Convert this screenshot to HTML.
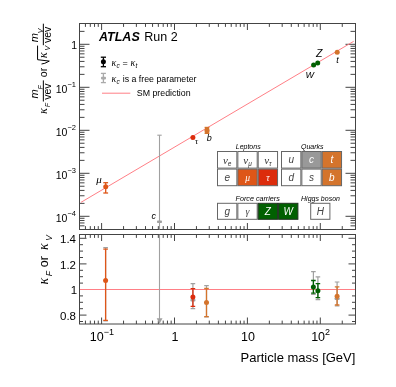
<!DOCTYPE html>
<html><head><meta charset="utf-8"><style>
html,body{margin:0;padding:0;background:#fff;width:396px;height:387px;overflow:hidden}
svg{display:block;will-change:transform}
</style></head><body>
<svg width="396" height="387" viewBox="0 0 396 387"><defs><clipPath id="cu"><rect x="79.5" y="23.5" width="276" height="206"/></clipPath><clipPath id="cl"><rect x="79.5" y="234.5" width="276" height="89.5"/></clipPath></defs>
<line x1="79.50" y1="225.84" x2="84.50" y2="225.84" stroke="#444" stroke-width="1.0" />
<line x1="355.50" y1="225.84" x2="350.50" y2="225.84" stroke="#444" stroke-width="1.0" />
<line x1="79.50" y1="222.96" x2="84.50" y2="222.96" stroke="#444" stroke-width="1.0" />
<line x1="355.50" y1="222.96" x2="350.50" y2="222.96" stroke="#444" stroke-width="1.0" />
<line x1="79.50" y1="220.47" x2="84.50" y2="220.47" stroke="#444" stroke-width="1.0" />
<line x1="355.50" y1="220.47" x2="350.50" y2="220.47" stroke="#444" stroke-width="1.0" />
<line x1="79.50" y1="218.27" x2="84.50" y2="218.27" stroke="#444" stroke-width="1.0" />
<line x1="355.50" y1="218.27" x2="350.50" y2="218.27" stroke="#444" stroke-width="1.0" />
<line x1="79.50" y1="216.30" x2="89.50" y2="216.30" stroke="#444" stroke-width="1.0" />
<line x1="355.50" y1="216.30" x2="345.50" y2="216.30" stroke="#444" stroke-width="1.0" />
<line x1="79.50" y1="203.36" x2="84.50" y2="203.36" stroke="#444" stroke-width="1.0" />
<line x1="355.50" y1="203.36" x2="350.50" y2="203.36" stroke="#444" stroke-width="1.0" />
<line x1="79.50" y1="195.78" x2="84.50" y2="195.78" stroke="#444" stroke-width="1.0" />
<line x1="355.50" y1="195.78" x2="350.50" y2="195.78" stroke="#444" stroke-width="1.0" />
<line x1="79.50" y1="190.41" x2="84.50" y2="190.41" stroke="#444" stroke-width="1.0" />
<line x1="355.50" y1="190.41" x2="350.50" y2="190.41" stroke="#444" stroke-width="1.0" />
<line x1="79.50" y1="186.24" x2="84.50" y2="186.24" stroke="#444" stroke-width="1.0" />
<line x1="355.50" y1="186.24" x2="350.50" y2="186.24" stroke="#444" stroke-width="1.0" />
<line x1="79.50" y1="182.84" x2="84.50" y2="182.84" stroke="#444" stroke-width="1.0" />
<line x1="355.50" y1="182.84" x2="350.50" y2="182.84" stroke="#444" stroke-width="1.0" />
<line x1="79.50" y1="179.96" x2="84.50" y2="179.96" stroke="#444" stroke-width="1.0" />
<line x1="355.50" y1="179.96" x2="350.50" y2="179.96" stroke="#444" stroke-width="1.0" />
<line x1="79.50" y1="177.47" x2="84.50" y2="177.47" stroke="#444" stroke-width="1.0" />
<line x1="355.50" y1="177.47" x2="350.50" y2="177.47" stroke="#444" stroke-width="1.0" />
<line x1="79.50" y1="175.27" x2="84.50" y2="175.27" stroke="#444" stroke-width="1.0" />
<line x1="355.50" y1="175.27" x2="350.50" y2="175.27" stroke="#444" stroke-width="1.0" />
<line x1="79.50" y1="173.30" x2="89.50" y2="173.30" stroke="#444" stroke-width="1.0" />
<line x1="355.50" y1="173.30" x2="345.50" y2="173.30" stroke="#444" stroke-width="1.0" />
<line x1="79.50" y1="160.36" x2="84.50" y2="160.36" stroke="#444" stroke-width="1.0" />
<line x1="355.50" y1="160.36" x2="350.50" y2="160.36" stroke="#444" stroke-width="1.0" />
<line x1="79.50" y1="152.78" x2="84.50" y2="152.78" stroke="#444" stroke-width="1.0" />
<line x1="355.50" y1="152.78" x2="350.50" y2="152.78" stroke="#444" stroke-width="1.0" />
<line x1="79.50" y1="147.41" x2="84.50" y2="147.41" stroke="#444" stroke-width="1.0" />
<line x1="355.50" y1="147.41" x2="350.50" y2="147.41" stroke="#444" stroke-width="1.0" />
<line x1="79.50" y1="143.24" x2="84.50" y2="143.24" stroke="#444" stroke-width="1.0" />
<line x1="355.50" y1="143.24" x2="350.50" y2="143.24" stroke="#444" stroke-width="1.0" />
<line x1="79.50" y1="139.84" x2="84.50" y2="139.84" stroke="#444" stroke-width="1.0" />
<line x1="355.50" y1="139.84" x2="350.50" y2="139.84" stroke="#444" stroke-width="1.0" />
<line x1="79.50" y1="136.96" x2="84.50" y2="136.96" stroke="#444" stroke-width="1.0" />
<line x1="355.50" y1="136.96" x2="350.50" y2="136.96" stroke="#444" stroke-width="1.0" />
<line x1="79.50" y1="134.47" x2="84.50" y2="134.47" stroke="#444" stroke-width="1.0" />
<line x1="355.50" y1="134.47" x2="350.50" y2="134.47" stroke="#444" stroke-width="1.0" />
<line x1="79.50" y1="132.27" x2="84.50" y2="132.27" stroke="#444" stroke-width="1.0" />
<line x1="355.50" y1="132.27" x2="350.50" y2="132.27" stroke="#444" stroke-width="1.0" />
<line x1="79.50" y1="130.30" x2="89.50" y2="130.30" stroke="#444" stroke-width="1.0" />
<line x1="355.50" y1="130.30" x2="345.50" y2="130.30" stroke="#444" stroke-width="1.0" />
<line x1="79.50" y1="117.36" x2="84.50" y2="117.36" stroke="#444" stroke-width="1.0" />
<line x1="355.50" y1="117.36" x2="350.50" y2="117.36" stroke="#444" stroke-width="1.0" />
<line x1="79.50" y1="109.78" x2="84.50" y2="109.78" stroke="#444" stroke-width="1.0" />
<line x1="355.50" y1="109.78" x2="350.50" y2="109.78" stroke="#444" stroke-width="1.0" />
<line x1="79.50" y1="104.41" x2="84.50" y2="104.41" stroke="#444" stroke-width="1.0" />
<line x1="355.50" y1="104.41" x2="350.50" y2="104.41" stroke="#444" stroke-width="1.0" />
<line x1="79.50" y1="100.24" x2="84.50" y2="100.24" stroke="#444" stroke-width="1.0" />
<line x1="355.50" y1="100.24" x2="350.50" y2="100.24" stroke="#444" stroke-width="1.0" />
<line x1="79.50" y1="96.84" x2="84.50" y2="96.84" stroke="#444" stroke-width="1.0" />
<line x1="355.50" y1="96.84" x2="350.50" y2="96.84" stroke="#444" stroke-width="1.0" />
<line x1="79.50" y1="93.96" x2="84.50" y2="93.96" stroke="#444" stroke-width="1.0" />
<line x1="355.50" y1="93.96" x2="350.50" y2="93.96" stroke="#444" stroke-width="1.0" />
<line x1="79.50" y1="91.47" x2="84.50" y2="91.47" stroke="#444" stroke-width="1.0" />
<line x1="355.50" y1="91.47" x2="350.50" y2="91.47" stroke="#444" stroke-width="1.0" />
<line x1="79.50" y1="89.27" x2="84.50" y2="89.27" stroke="#444" stroke-width="1.0" />
<line x1="355.50" y1="89.27" x2="350.50" y2="89.27" stroke="#444" stroke-width="1.0" />
<line x1="79.50" y1="87.30" x2="89.50" y2="87.30" stroke="#444" stroke-width="1.0" />
<line x1="355.50" y1="87.30" x2="345.50" y2="87.30" stroke="#444" stroke-width="1.0" />
<line x1="79.50" y1="74.36" x2="84.50" y2="74.36" stroke="#444" stroke-width="1.0" />
<line x1="355.50" y1="74.36" x2="350.50" y2="74.36" stroke="#444" stroke-width="1.0" />
<line x1="79.50" y1="66.78" x2="84.50" y2="66.78" stroke="#444" stroke-width="1.0" />
<line x1="355.50" y1="66.78" x2="350.50" y2="66.78" stroke="#444" stroke-width="1.0" />
<line x1="79.50" y1="61.41" x2="84.50" y2="61.41" stroke="#444" stroke-width="1.0" />
<line x1="355.50" y1="61.41" x2="350.50" y2="61.41" stroke="#444" stroke-width="1.0" />
<line x1="79.50" y1="57.24" x2="84.50" y2="57.24" stroke="#444" stroke-width="1.0" />
<line x1="355.50" y1="57.24" x2="350.50" y2="57.24" stroke="#444" stroke-width="1.0" />
<line x1="79.50" y1="53.84" x2="84.50" y2="53.84" stroke="#444" stroke-width="1.0" />
<line x1="355.50" y1="53.84" x2="350.50" y2="53.84" stroke="#444" stroke-width="1.0" />
<line x1="79.50" y1="50.96" x2="84.50" y2="50.96" stroke="#444" stroke-width="1.0" />
<line x1="355.50" y1="50.96" x2="350.50" y2="50.96" stroke="#444" stroke-width="1.0" />
<line x1="79.50" y1="48.47" x2="84.50" y2="48.47" stroke="#444" stroke-width="1.0" />
<line x1="355.50" y1="48.47" x2="350.50" y2="48.47" stroke="#444" stroke-width="1.0" />
<line x1="79.50" y1="46.27" x2="84.50" y2="46.27" stroke="#444" stroke-width="1.0" />
<line x1="355.50" y1="46.27" x2="350.50" y2="46.27" stroke="#444" stroke-width="1.0" />
<line x1="79.50" y1="44.30" x2="89.50" y2="44.30" stroke="#444" stroke-width="1.0" />
<line x1="355.50" y1="44.30" x2="345.50" y2="44.30" stroke="#444" stroke-width="1.0" />
<line x1="79.50" y1="31.36" x2="84.50" y2="31.36" stroke="#444" stroke-width="1.0" />
<line x1="355.50" y1="31.36" x2="350.50" y2="31.36" stroke="#444" stroke-width="1.0" />
<line x1="85.43" y1="23.50" x2="85.43" y2="26.90" stroke="#444" stroke-width="1.0" />
<line x1="85.43" y1="229.50" x2="85.43" y2="226.10" stroke="#444" stroke-width="1.0" />
<line x1="90.31" y1="23.50" x2="90.31" y2="26.90" stroke="#444" stroke-width="1.0" />
<line x1="90.31" y1="229.50" x2="90.31" y2="226.10" stroke="#444" stroke-width="1.0" />
<line x1="94.54" y1="23.50" x2="94.54" y2="26.90" stroke="#444" stroke-width="1.0" />
<line x1="94.54" y1="229.50" x2="94.54" y2="226.10" stroke="#444" stroke-width="1.0" />
<line x1="98.26" y1="23.50" x2="98.26" y2="26.90" stroke="#444" stroke-width="1.0" />
<line x1="98.26" y1="229.50" x2="98.26" y2="226.10" stroke="#444" stroke-width="1.0" />
<line x1="101.60" y1="23.50" x2="101.60" y2="30.00" stroke="#444" stroke-width="1.0" />
<line x1="101.60" y1="229.50" x2="101.60" y2="223.00" stroke="#444" stroke-width="1.0" />
<line x1="123.55" y1="23.50" x2="123.55" y2="26.90" stroke="#444" stroke-width="1.0" />
<line x1="123.55" y1="229.50" x2="123.55" y2="226.10" stroke="#444" stroke-width="1.0" />
<line x1="136.38" y1="23.50" x2="136.38" y2="26.90" stroke="#444" stroke-width="1.0" />
<line x1="136.38" y1="229.50" x2="136.38" y2="226.10" stroke="#444" stroke-width="1.0" />
<line x1="145.49" y1="23.50" x2="145.49" y2="26.90" stroke="#444" stroke-width="1.0" />
<line x1="145.49" y1="229.50" x2="145.49" y2="226.10" stroke="#444" stroke-width="1.0" />
<line x1="152.55" y1="23.50" x2="152.55" y2="26.90" stroke="#444" stroke-width="1.0" />
<line x1="152.55" y1="229.50" x2="152.55" y2="226.10" stroke="#444" stroke-width="1.0" />
<line x1="158.33" y1="23.50" x2="158.33" y2="26.90" stroke="#444" stroke-width="1.0" />
<line x1="158.33" y1="229.50" x2="158.33" y2="226.10" stroke="#444" stroke-width="1.0" />
<line x1="163.21" y1="23.50" x2="163.21" y2="26.90" stroke="#444" stroke-width="1.0" />
<line x1="163.21" y1="229.50" x2="163.21" y2="226.10" stroke="#444" stroke-width="1.0" />
<line x1="167.44" y1="23.50" x2="167.44" y2="26.90" stroke="#444" stroke-width="1.0" />
<line x1="167.44" y1="229.50" x2="167.44" y2="226.10" stroke="#444" stroke-width="1.0" />
<line x1="171.16" y1="23.50" x2="171.16" y2="26.90" stroke="#444" stroke-width="1.0" />
<line x1="171.16" y1="229.50" x2="171.16" y2="226.10" stroke="#444" stroke-width="1.0" />
<line x1="174.50" y1="23.50" x2="174.50" y2="30.00" stroke="#444" stroke-width="1.0" />
<line x1="174.50" y1="229.50" x2="174.50" y2="223.00" stroke="#444" stroke-width="1.0" />
<line x1="196.45" y1="23.50" x2="196.45" y2="26.90" stroke="#444" stroke-width="1.0" />
<line x1="196.45" y1="229.50" x2="196.45" y2="226.10" stroke="#444" stroke-width="1.0" />
<line x1="209.28" y1="23.50" x2="209.28" y2="26.90" stroke="#444" stroke-width="1.0" />
<line x1="209.28" y1="229.50" x2="209.28" y2="226.10" stroke="#444" stroke-width="1.0" />
<line x1="218.39" y1="23.50" x2="218.39" y2="26.90" stroke="#444" stroke-width="1.0" />
<line x1="218.39" y1="229.50" x2="218.39" y2="226.10" stroke="#444" stroke-width="1.0" />
<line x1="225.45" y1="23.50" x2="225.45" y2="26.90" stroke="#444" stroke-width="1.0" />
<line x1="225.45" y1="229.50" x2="225.45" y2="226.10" stroke="#444" stroke-width="1.0" />
<line x1="231.23" y1="23.50" x2="231.23" y2="26.90" stroke="#444" stroke-width="1.0" />
<line x1="231.23" y1="229.50" x2="231.23" y2="226.10" stroke="#444" stroke-width="1.0" />
<line x1="236.11" y1="23.50" x2="236.11" y2="26.90" stroke="#444" stroke-width="1.0" />
<line x1="236.11" y1="229.50" x2="236.11" y2="226.10" stroke="#444" stroke-width="1.0" />
<line x1="240.34" y1="23.50" x2="240.34" y2="26.90" stroke="#444" stroke-width="1.0" />
<line x1="240.34" y1="229.50" x2="240.34" y2="226.10" stroke="#444" stroke-width="1.0" />
<line x1="244.06" y1="23.50" x2="244.06" y2="26.90" stroke="#444" stroke-width="1.0" />
<line x1="244.06" y1="229.50" x2="244.06" y2="226.10" stroke="#444" stroke-width="1.0" />
<line x1="247.40" y1="23.50" x2="247.40" y2="30.00" stroke="#444" stroke-width="1.0" />
<line x1="247.40" y1="229.50" x2="247.40" y2="223.00" stroke="#444" stroke-width="1.0" />
<line x1="269.35" y1="23.50" x2="269.35" y2="26.90" stroke="#444" stroke-width="1.0" />
<line x1="269.35" y1="229.50" x2="269.35" y2="226.10" stroke="#444" stroke-width="1.0" />
<line x1="282.18" y1="23.50" x2="282.18" y2="26.90" stroke="#444" stroke-width="1.0" />
<line x1="282.18" y1="229.50" x2="282.18" y2="226.10" stroke="#444" stroke-width="1.0" />
<line x1="291.29" y1="23.50" x2="291.29" y2="26.90" stroke="#444" stroke-width="1.0" />
<line x1="291.29" y1="229.50" x2="291.29" y2="226.10" stroke="#444" stroke-width="1.0" />
<line x1="298.35" y1="23.50" x2="298.35" y2="26.90" stroke="#444" stroke-width="1.0" />
<line x1="298.35" y1="229.50" x2="298.35" y2="226.10" stroke="#444" stroke-width="1.0" />
<line x1="304.13" y1="23.50" x2="304.13" y2="26.90" stroke="#444" stroke-width="1.0" />
<line x1="304.13" y1="229.50" x2="304.13" y2="226.10" stroke="#444" stroke-width="1.0" />
<line x1="309.01" y1="23.50" x2="309.01" y2="26.90" stroke="#444" stroke-width="1.0" />
<line x1="309.01" y1="229.50" x2="309.01" y2="226.10" stroke="#444" stroke-width="1.0" />
<line x1="313.24" y1="23.50" x2="313.24" y2="26.90" stroke="#444" stroke-width="1.0" />
<line x1="313.24" y1="229.50" x2="313.24" y2="226.10" stroke="#444" stroke-width="1.0" />
<line x1="316.96" y1="23.50" x2="316.96" y2="26.90" stroke="#444" stroke-width="1.0" />
<line x1="316.96" y1="229.50" x2="316.96" y2="226.10" stroke="#444" stroke-width="1.0" />
<line x1="320.30" y1="23.50" x2="320.30" y2="30.00" stroke="#444" stroke-width="1.0" />
<line x1="320.30" y1="229.50" x2="320.30" y2="223.00" stroke="#444" stroke-width="1.0" />
<line x1="342.25" y1="23.50" x2="342.25" y2="26.90" stroke="#444" stroke-width="1.0" />
<line x1="342.25" y1="229.50" x2="342.25" y2="226.10" stroke="#444" stroke-width="1.0" />
<line x1="79.50" y1="321.50" x2="83.00" y2="321.50" stroke="#444" stroke-width="1.0" />
<line x1="355.50" y1="321.50" x2="352.00" y2="321.50" stroke="#444" stroke-width="1.0" />
<line x1="79.50" y1="315.10" x2="86.50" y2="315.10" stroke="#444" stroke-width="1.0" />
<line x1="355.50" y1="315.10" x2="348.50" y2="315.10" stroke="#444" stroke-width="1.0" />
<line x1="79.50" y1="308.70" x2="83.00" y2="308.70" stroke="#444" stroke-width="1.0" />
<line x1="355.50" y1="308.70" x2="352.00" y2="308.70" stroke="#444" stroke-width="1.0" />
<line x1="79.50" y1="302.30" x2="83.00" y2="302.30" stroke="#444" stroke-width="1.0" />
<line x1="355.50" y1="302.30" x2="352.00" y2="302.30" stroke="#444" stroke-width="1.0" />
<line x1="79.50" y1="295.90" x2="83.00" y2="295.90" stroke="#444" stroke-width="1.0" />
<line x1="355.50" y1="295.90" x2="352.00" y2="295.90" stroke="#444" stroke-width="1.0" />
<line x1="79.50" y1="289.50" x2="86.50" y2="289.50" stroke="#444" stroke-width="1.0" />
<line x1="355.50" y1="289.50" x2="348.50" y2="289.50" stroke="#444" stroke-width="1.0" />
<line x1="79.50" y1="283.10" x2="83.00" y2="283.10" stroke="#444" stroke-width="1.0" />
<line x1="355.50" y1="283.10" x2="352.00" y2="283.10" stroke="#444" stroke-width="1.0" />
<line x1="79.50" y1="276.70" x2="83.00" y2="276.70" stroke="#444" stroke-width="1.0" />
<line x1="355.50" y1="276.70" x2="352.00" y2="276.70" stroke="#444" stroke-width="1.0" />
<line x1="79.50" y1="270.30" x2="83.00" y2="270.30" stroke="#444" stroke-width="1.0" />
<line x1="355.50" y1="270.30" x2="352.00" y2="270.30" stroke="#444" stroke-width="1.0" />
<line x1="79.50" y1="263.90" x2="86.50" y2="263.90" stroke="#444" stroke-width="1.0" />
<line x1="355.50" y1="263.90" x2="348.50" y2="263.90" stroke="#444" stroke-width="1.0" />
<line x1="79.50" y1="257.50" x2="83.00" y2="257.50" stroke="#444" stroke-width="1.0" />
<line x1="355.50" y1="257.50" x2="352.00" y2="257.50" stroke="#444" stroke-width="1.0" />
<line x1="79.50" y1="251.10" x2="83.00" y2="251.10" stroke="#444" stroke-width="1.0" />
<line x1="355.50" y1="251.10" x2="352.00" y2="251.10" stroke="#444" stroke-width="1.0" />
<line x1="79.50" y1="244.70" x2="83.00" y2="244.70" stroke="#444" stroke-width="1.0" />
<line x1="355.50" y1="244.70" x2="352.00" y2="244.70" stroke="#444" stroke-width="1.0" />
<line x1="79.50" y1="238.30" x2="86.50" y2="238.30" stroke="#444" stroke-width="1.0" />
<line x1="355.50" y1="238.30" x2="348.50" y2="238.30" stroke="#444" stroke-width="1.0" />
<line x1="85.43" y1="234.50" x2="85.43" y2="237.90" stroke="#444" stroke-width="1.0" />
<line x1="85.43" y1="324.00" x2="85.43" y2="320.60" stroke="#444" stroke-width="1.0" />
<line x1="90.31" y1="234.50" x2="90.31" y2="237.90" stroke="#444" stroke-width="1.0" />
<line x1="90.31" y1="324.00" x2="90.31" y2="320.60" stroke="#444" stroke-width="1.0" />
<line x1="94.54" y1="234.50" x2="94.54" y2="237.90" stroke="#444" stroke-width="1.0" />
<line x1="94.54" y1="324.00" x2="94.54" y2="320.60" stroke="#444" stroke-width="1.0" />
<line x1="98.26" y1="234.50" x2="98.26" y2="237.90" stroke="#444" stroke-width="1.0" />
<line x1="98.26" y1="324.00" x2="98.26" y2="320.60" stroke="#444" stroke-width="1.0" />
<line x1="101.60" y1="234.50" x2="101.60" y2="241.00" stroke="#444" stroke-width="1.0" />
<line x1="101.60" y1="324.00" x2="101.60" y2="317.50" stroke="#444" stroke-width="1.0" />
<line x1="123.55" y1="234.50" x2="123.55" y2="237.90" stroke="#444" stroke-width="1.0" />
<line x1="123.55" y1="324.00" x2="123.55" y2="320.60" stroke="#444" stroke-width="1.0" />
<line x1="136.38" y1="234.50" x2="136.38" y2="237.90" stroke="#444" stroke-width="1.0" />
<line x1="136.38" y1="324.00" x2="136.38" y2="320.60" stroke="#444" stroke-width="1.0" />
<line x1="145.49" y1="234.50" x2="145.49" y2="237.90" stroke="#444" stroke-width="1.0" />
<line x1="145.49" y1="324.00" x2="145.49" y2="320.60" stroke="#444" stroke-width="1.0" />
<line x1="152.55" y1="234.50" x2="152.55" y2="237.90" stroke="#444" stroke-width="1.0" />
<line x1="152.55" y1="324.00" x2="152.55" y2="320.60" stroke="#444" stroke-width="1.0" />
<line x1="158.33" y1="234.50" x2="158.33" y2="237.90" stroke="#444" stroke-width="1.0" />
<line x1="158.33" y1="324.00" x2="158.33" y2="320.60" stroke="#444" stroke-width="1.0" />
<line x1="163.21" y1="234.50" x2="163.21" y2="237.90" stroke="#444" stroke-width="1.0" />
<line x1="163.21" y1="324.00" x2="163.21" y2="320.60" stroke="#444" stroke-width="1.0" />
<line x1="167.44" y1="234.50" x2="167.44" y2="237.90" stroke="#444" stroke-width="1.0" />
<line x1="167.44" y1="324.00" x2="167.44" y2="320.60" stroke="#444" stroke-width="1.0" />
<line x1="171.16" y1="234.50" x2="171.16" y2="237.90" stroke="#444" stroke-width="1.0" />
<line x1="171.16" y1="324.00" x2="171.16" y2="320.60" stroke="#444" stroke-width="1.0" />
<line x1="174.50" y1="234.50" x2="174.50" y2="241.00" stroke="#444" stroke-width="1.0" />
<line x1="174.50" y1="324.00" x2="174.50" y2="317.50" stroke="#444" stroke-width="1.0" />
<line x1="196.45" y1="234.50" x2="196.45" y2="237.90" stroke="#444" stroke-width="1.0" />
<line x1="196.45" y1="324.00" x2="196.45" y2="320.60" stroke="#444" stroke-width="1.0" />
<line x1="209.28" y1="234.50" x2="209.28" y2="237.90" stroke="#444" stroke-width="1.0" />
<line x1="209.28" y1="324.00" x2="209.28" y2="320.60" stroke="#444" stroke-width="1.0" />
<line x1="218.39" y1="234.50" x2="218.39" y2="237.90" stroke="#444" stroke-width="1.0" />
<line x1="218.39" y1="324.00" x2="218.39" y2="320.60" stroke="#444" stroke-width="1.0" />
<line x1="225.45" y1="234.50" x2="225.45" y2="237.90" stroke="#444" stroke-width="1.0" />
<line x1="225.45" y1="324.00" x2="225.45" y2="320.60" stroke="#444" stroke-width="1.0" />
<line x1="231.23" y1="234.50" x2="231.23" y2="237.90" stroke="#444" stroke-width="1.0" />
<line x1="231.23" y1="324.00" x2="231.23" y2="320.60" stroke="#444" stroke-width="1.0" />
<line x1="236.11" y1="234.50" x2="236.11" y2="237.90" stroke="#444" stroke-width="1.0" />
<line x1="236.11" y1="324.00" x2="236.11" y2="320.60" stroke="#444" stroke-width="1.0" />
<line x1="240.34" y1="234.50" x2="240.34" y2="237.90" stroke="#444" stroke-width="1.0" />
<line x1="240.34" y1="324.00" x2="240.34" y2="320.60" stroke="#444" stroke-width="1.0" />
<line x1="244.06" y1="234.50" x2="244.06" y2="237.90" stroke="#444" stroke-width="1.0" />
<line x1="244.06" y1="324.00" x2="244.06" y2="320.60" stroke="#444" stroke-width="1.0" />
<line x1="247.40" y1="234.50" x2="247.40" y2="241.00" stroke="#444" stroke-width="1.0" />
<line x1="247.40" y1="324.00" x2="247.40" y2="317.50" stroke="#444" stroke-width="1.0" />
<line x1="269.35" y1="234.50" x2="269.35" y2="237.90" stroke="#444" stroke-width="1.0" />
<line x1="269.35" y1="324.00" x2="269.35" y2="320.60" stroke="#444" stroke-width="1.0" />
<line x1="282.18" y1="234.50" x2="282.18" y2="237.90" stroke="#444" stroke-width="1.0" />
<line x1="282.18" y1="324.00" x2="282.18" y2="320.60" stroke="#444" stroke-width="1.0" />
<line x1="291.29" y1="234.50" x2="291.29" y2="237.90" stroke="#444" stroke-width="1.0" />
<line x1="291.29" y1="324.00" x2="291.29" y2="320.60" stroke="#444" stroke-width="1.0" />
<line x1="298.35" y1="234.50" x2="298.35" y2="237.90" stroke="#444" stroke-width="1.0" />
<line x1="298.35" y1="324.00" x2="298.35" y2="320.60" stroke="#444" stroke-width="1.0" />
<line x1="304.13" y1="234.50" x2="304.13" y2="237.90" stroke="#444" stroke-width="1.0" />
<line x1="304.13" y1="324.00" x2="304.13" y2="320.60" stroke="#444" stroke-width="1.0" />
<line x1="309.01" y1="234.50" x2="309.01" y2="237.90" stroke="#444" stroke-width="1.0" />
<line x1="309.01" y1="324.00" x2="309.01" y2="320.60" stroke="#444" stroke-width="1.0" />
<line x1="313.24" y1="234.50" x2="313.24" y2="237.90" stroke="#444" stroke-width="1.0" />
<line x1="313.24" y1="324.00" x2="313.24" y2="320.60" stroke="#444" stroke-width="1.0" />
<line x1="316.96" y1="234.50" x2="316.96" y2="237.90" stroke="#444" stroke-width="1.0" />
<line x1="316.96" y1="324.00" x2="316.96" y2="320.60" stroke="#444" stroke-width="1.0" />
<line x1="320.30" y1="234.50" x2="320.30" y2="241.00" stroke="#444" stroke-width="1.0" />
<line x1="320.30" y1="324.00" x2="320.30" y2="317.50" stroke="#444" stroke-width="1.0" />
<line x1="342.25" y1="234.50" x2="342.25" y2="237.90" stroke="#444" stroke-width="1.0" />
<line x1="342.25" y1="324.00" x2="342.25" y2="320.60" stroke="#444" stroke-width="1.0" />
<rect x="79.5" y="23.5" width="276.0" height="206.0" fill="none" stroke="#444" stroke-width="1"/>
<rect x="79.5" y="234.5" width="276.0" height="89.5" fill="none" stroke="#444" stroke-width="1"/>
<text x="77.20" y="49.20" font-size="10.5" text-anchor="end" fill="#000" style="font-family:'Liberation Sans',sans-serif;">1</text>
<text x="76.0" y="92.60" font-size="10.5" text-anchor="end" style="font-family:'Liberation Sans',sans-serif">10<tspan font-size="7.5" dy="-5.3">−1</tspan></text>
<text x="76.0" y="135.60" font-size="10.5" text-anchor="end" style="font-family:'Liberation Sans',sans-serif">10<tspan font-size="7.5" dy="-5.3">−2</tspan></text>
<text x="76.0" y="178.60" font-size="10.5" text-anchor="end" style="font-family:'Liberation Sans',sans-serif">10<tspan font-size="7.5" dy="-5.3">−3</tspan></text>
<text x="76.0" y="221.60" font-size="10.5" text-anchor="end" style="font-family:'Liberation Sans',sans-serif">10<tspan font-size="7.5" dy="-5.3">−4</tspan></text>
<text x="76.00" y="242.90" font-size="11.5" text-anchor="end" fill="#000" style="font-family:'Liberation Sans',sans-serif;">1.4</text>
<text x="76.00" y="268.50" font-size="11.5" text-anchor="end" fill="#000" style="font-family:'Liberation Sans',sans-serif;">1.2</text>
<text x="77.20" y="294.10" font-size="11.5" text-anchor="end" fill="#000" style="font-family:'Liberation Sans',sans-serif;">1</text>
<text x="76.00" y="319.70" font-size="11.5" text-anchor="end" fill="#000" style="font-family:'Liberation Sans',sans-serif;">0.8</text>
<text x="101.90" y="341" font-size="12.5" text-anchor="middle" style="font-family:'Liberation Sans',sans-serif">10<tspan font-size="9" dy="-6.5">−1</tspan></text>
<text x="175.00" y="341" font-size="12.5" text-anchor="middle" style="font-family:'Liberation Sans',sans-serif">1</text>
<text x="247.90" y="341" font-size="12.5" text-anchor="middle" style="font-family:'Liberation Sans',sans-serif">10</text>
<text x="320.60" y="341" font-size="12.5" text-anchor="middle" style="font-family:'Liberation Sans',sans-serif">10<tspan font-size="9" dy="-6.5">2</tspan></text>
<text x="355.40" y="361.80" font-size="13" text-anchor="end" fill="#000" style="font-family:'Liberation Sans',sans-serif;">Particle mass [GeV]</text>
<g clip-path="url(#cu)"><line x1="80.9" y1="202.4" x2="353.7" y2="41.3" stroke="#ff7f86" stroke-width="1"/></g>
<line x1="80" y1="289.50" x2="355" y2="289.50" stroke="#ff7f86" stroke-width="1"/>
<text x="99.0" y="41.3" font-size="12.5" style="font-family:'Liberation Sans',sans-serif;font-weight:bold;font-style:italic">ATLAS</text>
<text x="144.30" y="41.30" font-size="12.5" text-anchor="start" fill="#000" style="font-family:'Liberation Sans',sans-serif;">Run 2</text>
<line x1="103.40" y1="57.20" x2="103.40" y2="66.70" stroke="#000" stroke-width="1.3" />
<line x1="100.80" y1="57.20" x2="106.00" y2="57.20" stroke="#000" stroke-width="1.3" />
<line x1="100.80" y1="66.70" x2="106.00" y2="66.70" stroke="#000" stroke-width="1.3" />
<circle cx="103.40" cy="61.80" r="2.5" fill="#000"/>
<line x1="103.40" y1="73.40" x2="103.40" y2="82.60" stroke="#aaa" stroke-width="1.3" />
<line x1="100.90" y1="73.40" x2="105.90" y2="73.40" stroke="#aaa" stroke-width="1.3" />
<line x1="100.90" y1="82.60" x2="105.90" y2="82.60" stroke="#aaa" stroke-width="1.3" />
<rect x="101.00" y="76.80" width="5" height="2.6" rx="0.8" fill="#aaa"/>
<text x="111.50" y="65.80" font-size="10" style="font-family:'Liberation Serif',serif;font-style:italic">κ</text>
<text x="116.40" y="67.80" font-size="6.5" style="font-family:'Liberation Sans',sans-serif;font-style:italic">c</text>
<text x="122.50" y="65.80" font-size="9" style="font-family:'Liberation Sans',sans-serif">=</text>
<text x="130.50" y="65.80" font-size="10" style="font-family:'Liberation Serif',serif;font-style:italic">κ</text>
<text x="135.40" y="67.80" font-size="6.5" style="font-family:'Liberation Sans',sans-serif;font-style:italic">t</text>
<text x="111.50" y="81.60" font-size="10" style="font-family:'Liberation Serif',serif;font-style:italic">κ</text>
<text x="116.40" y="83.60" font-size="6.5" style="font-family:'Liberation Sans',sans-serif;font-style:italic">c</text>
<text x="122.70" y="81.70" font-size="8.8" style="font-family:'Liberation Sans',sans-serif">is a free parameter</text>
<line x1="102.00" y1="93.20" x2="130.30" y2="93.20" stroke="#ff7f86" stroke-width="1" />
<text x="136.80" y="96.30" font-size="8.8" text-anchor="start" fill="#000" style="font-family:'Liberation Sans',sans-serif;">SM prediction</text>
<line x1="159.50" y1="135.20" x2="159.50" y2="229.50" stroke="#a0a0a0" stroke-width="1.1" />
<line x1="157.30" y1="135.20" x2="161.70" y2="135.20" stroke="#a0a0a0" stroke-width="1.1" />
<rect x="157.00" y="220.40" width="5" height="2.6" rx="0.8" fill="#a0a0a0"/>
<text x="151.40" y="219.30" font-size="9" text-anchor="start" fill="#000" style="font-family:'Liberation Sans',sans-serif;font-style:italic">c</text>
<line x1="105.70" y1="182.70" x2="105.70" y2="193.00" stroke="#de5618" stroke-width="1.3" />
<line x1="103.30" y1="182.70" x2="108.10" y2="182.70" stroke="#de5618" stroke-width="1.3" />
<line x1="103.30" y1="193.00" x2="108.10" y2="193.00" stroke="#de5618" stroke-width="1.3" />
<circle cx="105.70" cy="186.70" r="2.5" fill="#de5618"/>
<text x="96.3" y="183.3" font-size="11" style="font-family:'Liberation Serif',serif;font-style:italic">μ</text>
<circle cx="192.90" cy="137.60" r="2.5" fill="#dc2c0c"/>
<text x="195.0" y="143.5" font-size="8.5" style="font-family:'Liberation Serif',serif;font-style:italic">τ</text>
<line x1="207.00" y1="127.60" x2="207.00" y2="133.20" stroke="#d4742c" stroke-width="1.6" />
<line x1="204.60" y1="127.60" x2="209.40" y2="127.60" stroke="#d4742c" stroke-width="1.6" />
<line x1="204.60" y1="133.20" x2="209.40" y2="133.20" stroke="#d4742c" stroke-width="1.6" />
<rect x="204.9" y="127.8" width="4.3" height="5.2" rx="1.2" fill="#d4742c"/>
<circle cx="207.00" cy="130.40" r="2.5" fill="#d4742c"/>
<text x="206.80" y="140.60" font-size="9" text-anchor="start" fill="#000" style="font-family:'Liberation Sans',sans-serif;font-style:italic">b</text>
<circle cx="313.60" cy="65.00" r="2.5" fill="#016001"/>
<circle cx="317.70" cy="62.90" r="2.5" fill="#016001"/>
<circle cx="337.20" cy="52.30" r="2.5" fill="#d4742c"/>
<text x="315.90" y="57.00" font-size="10.6" text-anchor="start" fill="#000" style="font-family:'Liberation Sans',sans-serif;font-style:italic">Z</text>
<text x="305.50" y="78.10" font-size="9" text-anchor="start" fill="#000" style="font-family:'Liberation Sans',sans-serif;font-style:italic">W</text>
<text x="336.20" y="63.30" font-size="9" text-anchor="start" fill="#000" style="font-family:'Liberation Sans',sans-serif;font-style:italic">t</text>
<g clip-path="url(#cl)">
<line x1="159.50" y1="234.50" x2="159.50" y2="319.00" stroke="#a0a0a0" stroke-width="1.1" />
<polygon points="156.7,318.3 162.5,318.3 159.6,323.8" fill="#a0a0a0"/>
<line x1="105.60" y1="247.70" x2="105.60" y2="320.80" stroke="#a0a0a0" stroke-width="1.2" />
<line x1="103.30" y1="247.70" x2="107.90" y2="247.70" stroke="#a0a0a0" stroke-width="1.2" />
<line x1="103.30" y1="320.80" x2="107.90" y2="320.80" stroke="#a0a0a0" stroke-width="1.2" />
<line x1="105.60" y1="249.20" x2="105.60" y2="320.30" stroke="#de5618" stroke-width="1.3" />
<line x1="103.30" y1="249.20" x2="107.90" y2="249.20" stroke="#de5618" stroke-width="1.3" />
<line x1="103.30" y1="320.30" x2="107.90" y2="320.30" stroke="#de5618" stroke-width="1.3" />
<circle cx="105.60" cy="280.60" r="2.5" fill="#de5618"/>
<line x1="192.90" y1="283.60" x2="192.90" y2="308.70" stroke="#a0a0a0" stroke-width="1.2" />
<line x1="190.60" y1="283.60" x2="195.20" y2="283.60" stroke="#a0a0a0" stroke-width="1.2" />
<line x1="190.60" y1="308.70" x2="195.20" y2="308.70" stroke="#a0a0a0" stroke-width="1.2" />
<rect x="190.40" y="299.00" width="5" height="2.6" rx="0.8" fill="#a0a0a0"/>
<line x1="192.90" y1="288.70" x2="192.90" y2="306.40" stroke="#dc2c0c" stroke-width="1.3" />
<line x1="190.60" y1="288.70" x2="195.20" y2="288.70" stroke="#dc2c0c" stroke-width="1.3" />
<line x1="190.60" y1="306.40" x2="195.20" y2="306.40" stroke="#dc2c0c" stroke-width="1.3" />
<circle cx="192.90" cy="297.10" r="2.5" fill="#dc2c0c"/>
<line x1="206.50" y1="285.70" x2="206.50" y2="317.00" stroke="#a0a0a0" stroke-width="1.2" />
<line x1="204.20" y1="285.70" x2="208.80" y2="285.70" stroke="#a0a0a0" stroke-width="1.2" />
<line x1="204.20" y1="317.00" x2="208.80" y2="317.00" stroke="#a0a0a0" stroke-width="1.2" />
<line x1="206.50" y1="288.50" x2="206.50" y2="316.60" stroke="#d4742c" stroke-width="1.3" />
<line x1="204.20" y1="288.50" x2="208.80" y2="288.50" stroke="#d4742c" stroke-width="1.3" />
<line x1="204.20" y1="316.60" x2="208.80" y2="316.60" stroke="#d4742c" stroke-width="1.3" />
<circle cx="206.50" cy="302.40" r="2.5" fill="#d4742c"/>
<line x1="313.40" y1="271.70" x2="313.40" y2="294.50" stroke="#a0a0a0" stroke-width="1.2" />
<line x1="311.10" y1="271.70" x2="315.70" y2="271.70" stroke="#a0a0a0" stroke-width="1.2" />
<line x1="311.10" y1="294.50" x2="315.70" y2="294.50" stroke="#a0a0a0" stroke-width="1.2" />
<line x1="313.40" y1="280.50" x2="313.40" y2="293.10" stroke="#016001" stroke-width="1.3" />
<line x1="311.10" y1="280.50" x2="315.70" y2="280.50" stroke="#016001" stroke-width="1.3" />
<line x1="311.10" y1="293.10" x2="315.70" y2="293.10" stroke="#016001" stroke-width="1.3" />
<circle cx="313.40" cy="286.90" r="2.5" fill="#016001"/>
<line x1="317.90" y1="276.90" x2="317.90" y2="299.60" stroke="#a0a0a0" stroke-width="1.2" />
<line x1="315.60" y1="276.90" x2="320.20" y2="276.90" stroke="#a0a0a0" stroke-width="1.2" />
<line x1="315.60" y1="299.60" x2="320.20" y2="299.60" stroke="#a0a0a0" stroke-width="1.2" />
<line x1="317.90" y1="283.60" x2="317.90" y2="297.60" stroke="#016001" stroke-width="1.3" />
<line x1="315.60" y1="283.60" x2="320.20" y2="283.60" stroke="#016001" stroke-width="1.3" />
<line x1="315.60" y1="297.60" x2="320.20" y2="297.60" stroke="#016001" stroke-width="1.3" />
<circle cx="317.90" cy="290.80" r="2.5" fill="#016001"/>
<line x1="337.10" y1="282.00" x2="337.10" y2="306.00" stroke="#a0a0a0" stroke-width="1.2" />
<line x1="334.80" y1="282.00" x2="339.40" y2="282.00" stroke="#a0a0a0" stroke-width="1.2" />
<line x1="334.80" y1="306.00" x2="339.40" y2="306.00" stroke="#a0a0a0" stroke-width="1.2" />
<rect x="334.60" y="297.40" width="5" height="2.6" rx="0.8" fill="#a0a0a0"/>
<line x1="337.10" y1="286.90" x2="337.10" y2="305.00" stroke="#d4742c" stroke-width="1.3" />
<line x1="334.80" y1="286.90" x2="339.40" y2="286.90" stroke="#d4742c" stroke-width="1.3" />
<line x1="334.80" y1="305.00" x2="339.40" y2="305.00" stroke="#d4742c" stroke-width="1.3" />
<circle cx="337.10" cy="296.20" r="2.5" fill="#d4742c"/>
</g>
<rect x="217.50" y="151.50" width="19.35" height="16.60" fill="#fff" stroke="#666" stroke-width="1"/>
<text x="227.18" y="163.60" font-size="11" text-anchor="middle" fill="#333" style="font-family:'Liberation Serif',serif;font-style:italic">ν<tspan font-size="6.5" dy="2.5" style="font-family:'Liberation Sans',sans-serif;font-style:italic">e</tspan></text>
<rect x="237.85" y="151.50" width="19.35" height="16.60" fill="#fff" stroke="#666" stroke-width="1"/>
<text x="247.53" y="163.60" font-size="11" text-anchor="middle" fill="#333" style="font-family:'Liberation Serif',serif;font-style:italic">ν<tspan font-size="6.5" dy="2.5" style="font-family:'Liberation Sans',sans-serif;font-style:italic">μ</tspan></text>
<rect x="258.20" y="151.50" width="19.35" height="16.60" fill="#fff" stroke="#666" stroke-width="1"/>
<text x="267.88" y="163.60" font-size="11" text-anchor="middle" fill="#333" style="font-family:'Liberation Serif',serif;font-style:italic">ν<tspan font-size="6.5" dy="2.5" style="font-family:'Liberation Sans',sans-serif;font-style:italic">τ</tspan></text>
<rect x="217.50" y="169.10" width="19.35" height="16.60" fill="#fff" stroke="#666" stroke-width="1"/>
<text x="227.18" y="180.90" font-size="10" text-anchor="middle" fill="#444" style="font-family:'Liberation Sans',sans-serif;font-style:italic">e</text>
<rect x="237.85" y="169.10" width="19.35" height="16.60" fill="#de5618" stroke="#666" stroke-width="1"/>
<text x="247.53" y="180.90" font-size="9.5" text-anchor="middle" fill="#fff" style="font-family:'Liberation Serif',serif;font-style:italic">μ</text>
<rect x="258.20" y="169.10" width="19.35" height="16.60" fill="#dc2c0c" stroke="#666" stroke-width="1"/>
<text x="267.88" y="180.90" font-size="9.5" text-anchor="middle" fill="#fff" style="font-family:'Liberation Serif',serif;font-style:italic">τ</text>
<rect x="281.50" y="151.50" width="19.35" height="16.60" fill="#fff" stroke="#666" stroke-width="1"/>
<text x="291.18" y="163.30" font-size="10" text-anchor="middle" fill="#444" style="font-family:'Liberation Sans',sans-serif;font-style:italic">u</text>
<rect x="301.85" y="151.50" width="19.35" height="16.60" fill="#999" stroke="#666" stroke-width="1"/>
<text x="311.53" y="163.30" font-size="10" text-anchor="middle" fill="#fff" style="font-family:'Liberation Sans',sans-serif;font-style:italic">c</text>
<rect x="322.20" y="151.50" width="19.35" height="16.60" fill="#d4742c" stroke="#666" stroke-width="1"/>
<text x="331.88" y="163.30" font-size="10" text-anchor="middle" fill="#fff" style="font-family:'Liberation Sans',sans-serif;font-style:italic">t</text>
<rect x="281.50" y="169.10" width="19.35" height="16.60" fill="#fff" stroke="#666" stroke-width="1"/>
<text x="291.18" y="180.90" font-size="10" text-anchor="middle" fill="#444" style="font-family:'Liberation Sans',sans-serif;font-style:italic">d</text>
<rect x="301.85" y="169.10" width="19.35" height="16.60" fill="#fff" stroke="#666" stroke-width="1"/>
<text x="311.53" y="180.90" font-size="10" text-anchor="middle" fill="#444" style="font-family:'Liberation Sans',sans-serif;font-style:italic">s</text>
<rect x="322.20" y="169.10" width="19.35" height="16.60" fill="#d4742c" stroke="#666" stroke-width="1"/>
<text x="331.88" y="180.90" font-size="10" text-anchor="middle" fill="#fff" style="font-family:'Liberation Sans',sans-serif;font-style:italic">b</text>
<text x="248.2" y="148.6" font-size="7" text-anchor="middle" style="font-family:'Liberation Sans',sans-serif;font-style:italic">Leptons</text>
<text x="312.3" y="148.6" font-size="7" text-anchor="middle" style="font-family:'Liberation Sans',sans-serif;font-style:italic">Quarks</text>
<rect x="217.50" y="203.30" width="19.35" height="16.00" fill="#fff" stroke="#666" stroke-width="1"/>
<text x="227.18" y="214.80" font-size="10" text-anchor="middle" fill="#444" style="font-family:'Liberation Sans',sans-serif;font-style:italic">g</text>
<rect x="237.85" y="203.30" width="19.35" height="16.00" fill="#fff" stroke="#666" stroke-width="1"/>
<text x="247.53" y="214.80" font-size="10" text-anchor="middle" fill="#444" style="font-family:'Liberation Serif',serif;font-style:italic">γ</text>
<rect x="258.20" y="203.30" width="19.35" height="16.00" fill="#016001" stroke="#223322" stroke-width="1"/>
<text x="267.88" y="214.80" font-size="10" text-anchor="middle" fill="#fff" style="font-family:'Liberation Sans',sans-serif;font-style:italic">Z</text>
<rect x="278.55" y="203.30" width="19.35" height="16.00" fill="#016001" stroke="#223322" stroke-width="1"/>
<text x="288.23" y="214.80" font-size="10" text-anchor="middle" fill="#fff" style="font-family:'Liberation Sans',sans-serif;font-style:italic">W</text>
<rect x="310.70" y="203.30" width="19.20" height="16.00" fill="#fff" stroke="#666" stroke-width="1"/>
<text x="320.30" y="214.80" font-size="10" text-anchor="middle" fill="#444" style="font-family:'Liberation Sans',sans-serif;font-style:italic">H</text>
<text x="257.7" y="200.6" font-size="7.2" text-anchor="middle" style="font-family:'Liberation Sans',sans-serif;font-style:italic">Force carriers</text>
<text x="320.5" y="200.6" font-size="7" text-anchor="middle" style="font-family:'Liberation Sans',sans-serif;font-style:italic">Higgs boson</text>
<g transform="translate(0,113.8) rotate(-90)"><text x="-0.30" y="46.80" font-size="12.5" text-anchor="start" style="font-family:'Liberation Serif',serif;font-style:italic">κ</text><text x="6.60" y="49.50" font-size="7" text-anchor="start" style="font-family:'Liberation Sans',sans-serif;font-style:italic">F</text><line x1="12.3" y1="43.35" x2="33.4" y2="43.35" stroke="#000" stroke-width="1"/><text x="15.30" y="38.30" font-size="11" text-anchor="start" style="font-family:'Liberation Sans',sans-serif;font-style:italic">m</text><text x="24.20" y="42.70" font-size="7" text-anchor="start" style="font-family:'Liberation Sans',sans-serif;font-style:italic">F</text><text x="14.00" y="50.60" font-size="10.5" text-anchor="start" style="font-family:'Liberation Sans',sans-serif;">vev</text><text x="36.60" y="47.10" font-size="10.5" text-anchor="start" style="font-family:'Liberation Sans',sans-serif;">or</text><polyline points="49.8,41.5 50.5,44.8 52.7,49.3 54.1,37.55 68.2,37.55" fill="none" stroke="#000" stroke-width="1"/><text x="55.60" y="46.60" font-size="12.5" text-anchor="start" style="font-family:'Liberation Serif',serif;font-style:italic">κ</text><text x="63.30" y="49.60" font-size="7" text-anchor="start" style="font-family:'Liberation Sans',sans-serif;font-style:italic">V</text><line x1="68.6" y1="43.35" x2="90.1" y2="43.35" stroke="#000" stroke-width="1"/><text x="71.60" y="38.30" font-size="11" text-anchor="start" style="font-family:'Liberation Sans',sans-serif;font-style:italic">m</text><text x="80.50" y="43.10" font-size="7" text-anchor="start" style="font-family:'Liberation Sans',sans-serif;font-style:italic">V</text><text x="70.70" y="50.60" font-size="10.5" text-anchor="start" style="font-family:'Liberation Sans',sans-serif;">vev</text></g>
<g transform="translate(0,284.5) rotate(-90)"><text x="0.00" y="47.80" font-size="14" text-anchor="start" style="font-family:'Liberation Serif',serif;font-style:italic">κ</text><text x="8.30" y="52.00" font-size="8.5" text-anchor="start" style="font-family:'Liberation Sans',sans-serif;font-style:italic">F</text><text x="17.30" y="47.80" font-size="12.5" text-anchor="start" style="font-family:'Liberation Sans',sans-serif;">or</text><text x="34.60" y="47.80" font-size="14" text-anchor="start" style="font-family:'Liberation Serif',serif;font-style:italic">κ</text><text x="43.80" y="52.00" font-size="8.5" text-anchor="start" style="font-family:'Liberation Sans',sans-serif;font-style:italic">V</text></g></svg>
</body></html>
